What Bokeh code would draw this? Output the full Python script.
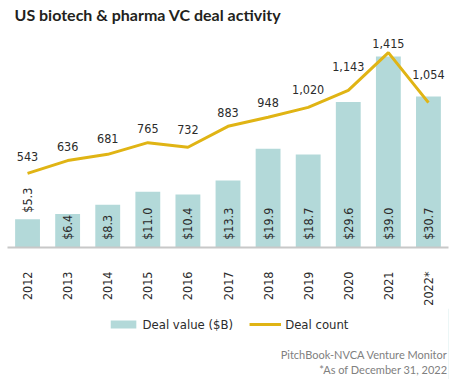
import math
from bokeh.plotting import figure
from bokeh.layouts import column
from bokeh.models import (ColumnDataSource, Range1d, FactorRange, Legend, LegendItem, Label)
from bokeh.core.properties import value
from bokeh.embed import file_html
from bokeh.resources import INLINE

# ---- data ----
years = ["2012", "2013", "2014", "2015", "2016", "2017", "2018", "2019", "2020", "2021", "2022*"]
deal_value = [5.3, 6.4, 8.3, 11.0, 10.4, 13.3, 19.9, 18.7, 29.6, 39.0, 30.7]
deal_count = [543, 636, 681, 765, 732, 883, 948, 1020, 1143, 1415, 1054]

title_text = "US biotech & pharma VC deal activity"
source_text = "PitchBook-NVCA Venture Monitor"
note_text = "*As of December 31, 2022"
legend_labels = ["Deal value ($B)", "Deal count"]

# ---- style / layout ----
BAR_COLOR = "#b3d9d9"
LINE_COLOR = "#e0b414"
TEXT_COLOR = "#2b2b2b"
NUM_FONT = "DejaVu Sans Condensed"
NUM_SIZE = "12.5px"
VALUE_RANGE = (-0.55, 50.6)
COUNT_RANGE = (8.56, 1791.0)
# pixel lift of each count label above its point (label placement tuning)
count_label_lift = [17, 14, 16, 14, 18, 14, 15, 18, 24, 9, 28]

value_text = ["$%.1f" % v for v in deal_value]
count_text = ["{:,}".format(c) for c in deal_count]
inside = [v >= 6 for v in deal_value]
value_label_y = [0 if ins else v for v, ins in zip(deal_value, inside)]
value_label_off = [-5 if ins else -6.5 for ins in inside]

src = ColumnDataSource(dict(
    year=years, val=deal_value, cnt=deal_count,
    vtxt=value_text, ctxt=count_text,
    vly=value_label_y, vlo=value_label_off,
    clo=[-d for d in count_label_lift],
))

# ---------- main chart ----------
p = figure(width=474, height=308, x_range=FactorRange(*years, range_padding=0),
           y_range=Range1d(*VALUE_RANGE), output_backend="svg", toolbar_location=None,
           y_axis_location=None, min_border_left=7, min_border_right=26,
           min_border_top=0, min_border_bottom=58)
p.extra_y_ranges = {"count": Range1d(*COUNT_RANGE)}
p.outline_line_color = None
p.xgrid.visible = False
p.ygrid.visible = False
p.background_fill_color = "white"
p.border_fill_color = "white"

bars = p.vbar(x="year", top="val", bottom=VALUE_RANGE[0], width=0.62, source=src,
              fill_color=BAR_COLOR, line_color=None)
line = p.line(x="year", y="cnt", source=src, y_range_name="count",
              line_color=LINE_COLOR, line_width=3)

p.text(x="year", y="vly", text="vtxt", source=src, angle=math.pi / 2,
       y_offset="vlo", text_align="left", text_baseline="middle",
       text_font=value(NUM_FONT), text_font_size=NUM_SIZE, text_color=TEXT_COLOR)
p.text(x="year", y="cnt", text="ctxt", source=src, y_range_name="count",
       y_offset="clo", text_align="center", text_baseline="middle",
       text_font=value(NUM_FONT), text_font_size=NUM_SIZE, text_color=TEXT_COLOR)

p.add_layout(Label(x=7, y=233, x_units="screen", y_units="screen", text=title_text,
                   text_font="Lato", text_font_style="bold", text_font_size="16px",
                   text_color="#231f20", text_baseline="alphabetic"))

ax = p.xaxis[0]
ax.axis_line_color = "#c8c8c8"
ax.axis_line_width = 2
ax.major_tick_line_color = None
ax.minor_tick_line_color = None
ax.major_label_orientation = math.pi / 2
ax.major_label_standoff = 18
ax.major_label_text_font = NUM_FONT
ax.major_label_text_font_size = NUM_SIZE
ax.major_label_text_color = TEXT_COLOR

# ---------- footer: legend + source ----------
f = figure(width=474, height=71, x_range=Range1d(0, 1), y_range=Range1d(0, 1),
           output_backend="svg", toolbar_location=None,
           x_axis_location=None, y_axis_location=None,
           min_border_left=7, min_border_right=26, min_border_top=0, min_border_bottom=0)
f.outline_line_color = None
f.xgrid.visible = False
f.ygrid.visible = False
f.border_fill_color = "white"

# legend stubs: one point each, kept outside the footer's visible range
stub = ColumnDataSource(dict(x=[5], y=[5]))
leg_bar = f.vbar(x="x", top="y", width=0.5, source=stub, fill_color=BAR_COLOR, line_color=None)
leg_line = f.line(x="x", y="y", source=stub, line_color=LINE_COLOR, line_width=3)

legend = Legend(items=[LegendItem(label=legend_labels[0], renderers=[leg_bar]),
                       LegendItem(label=legend_labels[1], renderers=[leg_line])],
                orientation="horizontal", location="top_center",
                spacing=16, label_standoff=4, glyph_width=32, glyph_height=10,
                label_height=16, label_text_font=NUM_FONT, label_text_font_size="13px",
                label_text_color=TEXT_COLOR, padding=0, margin=8,
                border_line_color=None, background_fill_alpha=0)
f.add_layout(legend, "center")

f.add_layout(Label(x=440, y=25, x_units="screen", y_units="screen", text=source_text,
                   text_font="Lato", text_font_size="11px", text_color="#808080",
                   text_align="right", text_baseline="alphabetic"))
f.add_layout(Label(x=440, y=10, x_units="screen", y_units="screen", text=note_text,
                   text_font="Lato", text_font_size="11px", text_color="#808080",
                   text_align="right", text_baseline="alphabetic"))

layout = column(p, f, spacing=0)
open("out.html", "w").write(file_html(layout, INLINE))
